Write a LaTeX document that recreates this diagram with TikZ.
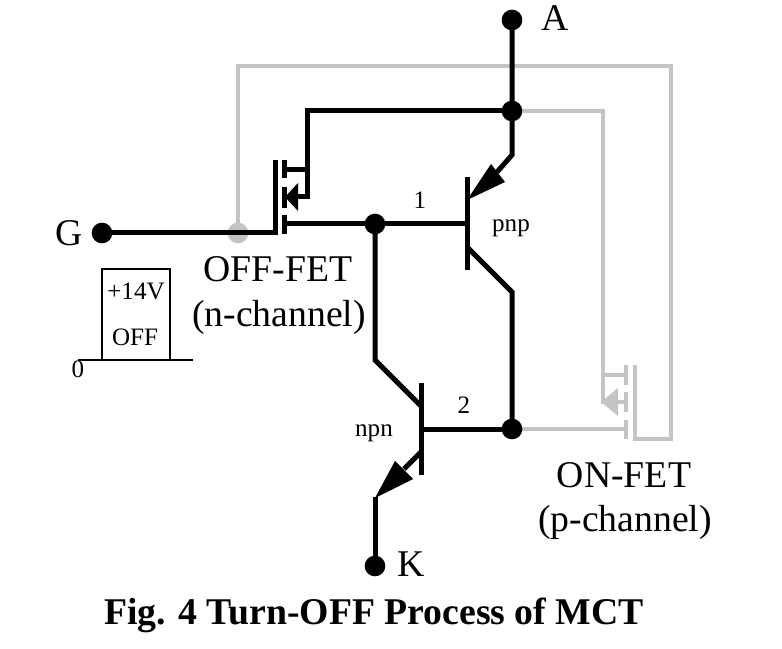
\documentclass[tikz,border=0pt]{standalone}
\usepackage{fontspec}
\setmainfont{Liberation Serif}
\newcommand{\pxfont}[1]{\fontsize{#1}{#1}\selectfont}
\tikzset{
  x=0.75pt,y=-0.75pt,
  wire/.style={line width=3.75pt,line join=miter,line cap=butt,black},
  gwire/.style={line width=3.2pt,line join=miter,line cap=butt,draw=gry},
  dot/.style={circle,fill=black,inner sep=0pt,minimum size=15.5pt},
  gdot/.style={circle,fill=gry,inner sep=0pt,minimum size=15.5pt},
  thin wire/.style={line width=1.1pt,black},
  big/.style={inner sep=0pt,font=\pxfont{28.3}},
  small/.style={inner sep=0pt,font=\pxfont{18.8}},
  cap text/.style={inner sep=0pt,font=\bfseries\pxfont{28.3}},
}
\definecolor{gry}{gray}{0.77}
\begin{document}
\begin{tikzpicture}
\useasboundingbox (0,0) rectangle (782,649);
% junctions
\coordinate (gtop) at (238,66);
\coordinate (rtop) at (671,66);
\coordinate (rbot) at (671,439);
\coordinate (onbot) at (635,439);
\coordinate (ontop) at (635,365);
\coordinate (gr1) at (603,111);
\coordinate (onD) at (626,375);
\coordinate (gr2) at (603,402);
\coordinate (onG) at (626,402);
\coordinate (onS) at (626,429);
% gray parts
\node[gdot] (gg) at (238,233) {};
\draw[gwire] (gg.center) -- (gtop) -- (rtop) -- (rbot) -- (onbot) -- (ontop);
\coordinate (a1) at (512,111);
\coordinate (a2) at (512,429);
\draw[gwire] (a1) -- (gr1) -- (gr2) -- (onG);
\draw[gwire] (gr1 |- onD) -- (onD);
\draw[gwire] (a2) -- (onS);
\draw[gwire] (626,365) -- (626,385);
\draw[gwire] (626,392) -- (626,412);
\draw[gwire] (626,420) -- (626,439);
\fill[gry] (601,402) -- (618,388) -- (618,416) -- cycle;
% main nodes
\node[dot] (A) at (512,20) {};
\node[dot] (n1) at (512,111) {};
\node[dot] (G) at (102,233) {};
\node[dot] (n2) at (375,224) {};
\node[dot] (n3) at (512,429) {};
\node[dot] (K) at (375,566) {};
% OFF-FET
\coordinate (og) at (275,233);
\coordinate (ogt) at (275,160);
\coordinate (bd1) at (307,111);
\coordinate (bd2) at (307,197);
\coordinate (dr) at (284,170);
\coordinate (sr) at (284,224);
\draw[wire] (G.center) -- (og) -- (ogt);
\draw[wire] (n1.center) -- (bd1) -- (bd2) -- (290,197);
\draw[wire] (dr) -- (bd1 |- dr);
\draw[wire] (284,160) -- (284,178);
\draw[wire] (284,187) -- (284,208);
\draw[wire] (284,215) -- (284,234);
\draw[wire] (sr) -- (n2.center);
\fill (285,197) -- (298,183) -- (298,211) -- cycle;
% pnp
\coordinate (pb) at (467,224);
\coordinate (pe0) at (512,155);
\coordinate (pc0) at (467,247);
\coordinate (pc1) at (512,292);
\draw[wire] (A.center) -- (n1.center) -- (pe0) -- (497,172);
\draw[wire] (n2.center) -- (pb);
\draw[wire] (467,177) -- (467,270);
\draw[wire] (pc0) -- (pc1) -- (n3.center);
\fill (467,200) -- (491,164) -- (505,182) -- cycle;
% npn
\coordinate (nb) at (421,429);
\coordinate (nc0) at (375,360);
\coordinate (nc1) at (421,406);
\coordinate (ne0) at (421,452);
\coordinate (ne1) at (375,497);
\draw[wire] (n2.center) -- (nc0) -- (nc1);
\draw[wire] (421,383) -- (421,475);
\draw[wire] (nb) -- (n3.center);
\draw[wire] (ne0) -- (404,469);
\draw[wire] (ne1) -- (K.center);
\fill (375,498) -- (395,461) -- (413,479) -- cycle;
% pulse box
\coordinate (b1) at (102,360);
\coordinate (b2) at (102,269);
\coordinate (b3) at (170,269);
\coordinate (b4) at (170,360);
\coordinate (l0) at (78,360);
\coordinate (l1) at (193,360);
\draw[thin wire] (b1) -- (b2) -- (b3) -- (b4);
\draw[thin wire] (l0) -- (l1);
% labels
\node[big] (tA) at (555,18) {A};
\node[big] (tG) at (69,233) {G};
\node[big] (tK) at (411,564) {K};
\node[big] (t1) at (278,269) {OFF-FET};
\node[big] (t2) at (279,317) {(n-channel)};
\node[big] (t3) at (624,475) {ON-FET};
\node[big] (t4) at (625,522) {(p-channel)};
\node[small] (t5) at (420,200) {1};
\node[small] (t6) at (464,405) {2};
\node[small] (t7) at (511,228) {pnp};
\node[small] (t8) at (374,433) {npn};
\node[small] (t9) at (136,291) {+14V};
\node[small] (t10) at (135,337) {OFF};
\node[small] (t11) at (78,369) {0};
\node[cap text] (t12) at (374,615) {Fig. 4 Turn-OFF Process of MCT};
\end{tikzpicture}
\end{document}
